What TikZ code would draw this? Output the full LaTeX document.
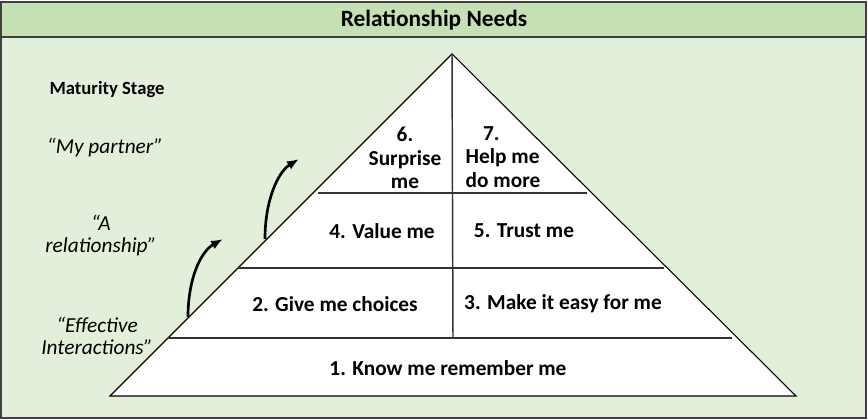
\documentclass[tikz,border=0pt]{standalone}
\usepackage{fontspec}
\setmainfont{Carlito}
\usetikzlibrary{calc, arrows.meta}

\begin{document}
\begin{tikzpicture}[x=0.75pt, y=-0.75pt,
    level/.style={font=\bfseries\fontsize{16}{17.6}\selectfont, align=center},
    stage/.style={font=\itshape\fontsize{16}{16.5}\selectfont, align=center},
    divider/.style={draw=black!80, line width=1.1pt},
    climb/.style={-{Latex[length=9pt, width=7pt]}, line width=2pt}]
    % Define colours
    \definecolor{headerColour}{HTML}{C5E0B4}
    \definecolor{panelColour}{HTML}{E2EFDA}
    \definecolor{frameColour}{HTML}{404040}

    % Fix the size of the picture
    \useasboundingbox (0,0) rectangle (868,420);

    % Draw panel and header
    \draw[fill=panelColour, draw=frameColour, line width=1.2pt] (1,2) rectangle (866,418);
    \draw[fill=headerColour, draw=frameColour, line width=1.2pt] (1,2) rectangle (866,37);
    \node[font=\bfseries\fontsize{17.5}{18}\selectfont] (title) at (434,20) {Relationship Needs};

    % Define the corners of the pyramid
    \coordinate (apex) at (452,54);
    \coordinate (baseL) at (110,396);
    \coordinate (baseR) at (796,396);

    % Draw the pyramid
    \draw[fill=white, draw=black, line width=0.8pt] (apex) -- (baseL) -- (baseR) -- cycle;

    % Draw the level dividers
    \draw[divider] (168,338) -- (732,338);
    \draw[divider] (238,268) -- (664,268);
    \draw[divider] (318,193) -- (587,193);
    \draw[divider] (apex) -- (453,338);

    % Label the levels
    \node[level] (know) at (448,368) {1. Know me remember me};
    \node[level] (choices) at (335,304) {2. Give me choices};
    \node[level] (easy) at (563,304) {3. Make it easy for me};
    \node[level] (value) at (382,231) {4. Value me};
    \node[level] (trust) at (524,231) {5. Trust me};
    \node[level] (surprise) at (405,158) {6.\\Surprise\\me};
    \node[level, align=left, anchor=west] (help) at (461,157) {\hspace*{13pt}7.\\Help me\\do more};

    % Label the maturity stages
    \node[font=\bfseries\fontsize{14}{15}\selectfont] (maturity) at (107,90) {Maturity Stage};
    \node[stage] (partner) at (105,148) {``My partner''};
    \node[stage] (relation) at (101,236) {``A\\relationship''};
    \node[stage] (effective) at (97,336) {``Effective\\Interactions''};

    % Draw the arrows between stages
    \coordinate (lowStart) at (188,317);
    \coordinate (lowEnd) at (223,239);
    \coordinate (highStart) at (265,239);
    \coordinate (highEnd) at (299,159);
    \draw[climb] (lowStart) .. controls (188,280) and (200,252) .. (lowEnd);
    \draw[climb] (highStart) .. controls (265,200) and (278,172) .. (highEnd);

\end{tikzpicture}
\end{document}
